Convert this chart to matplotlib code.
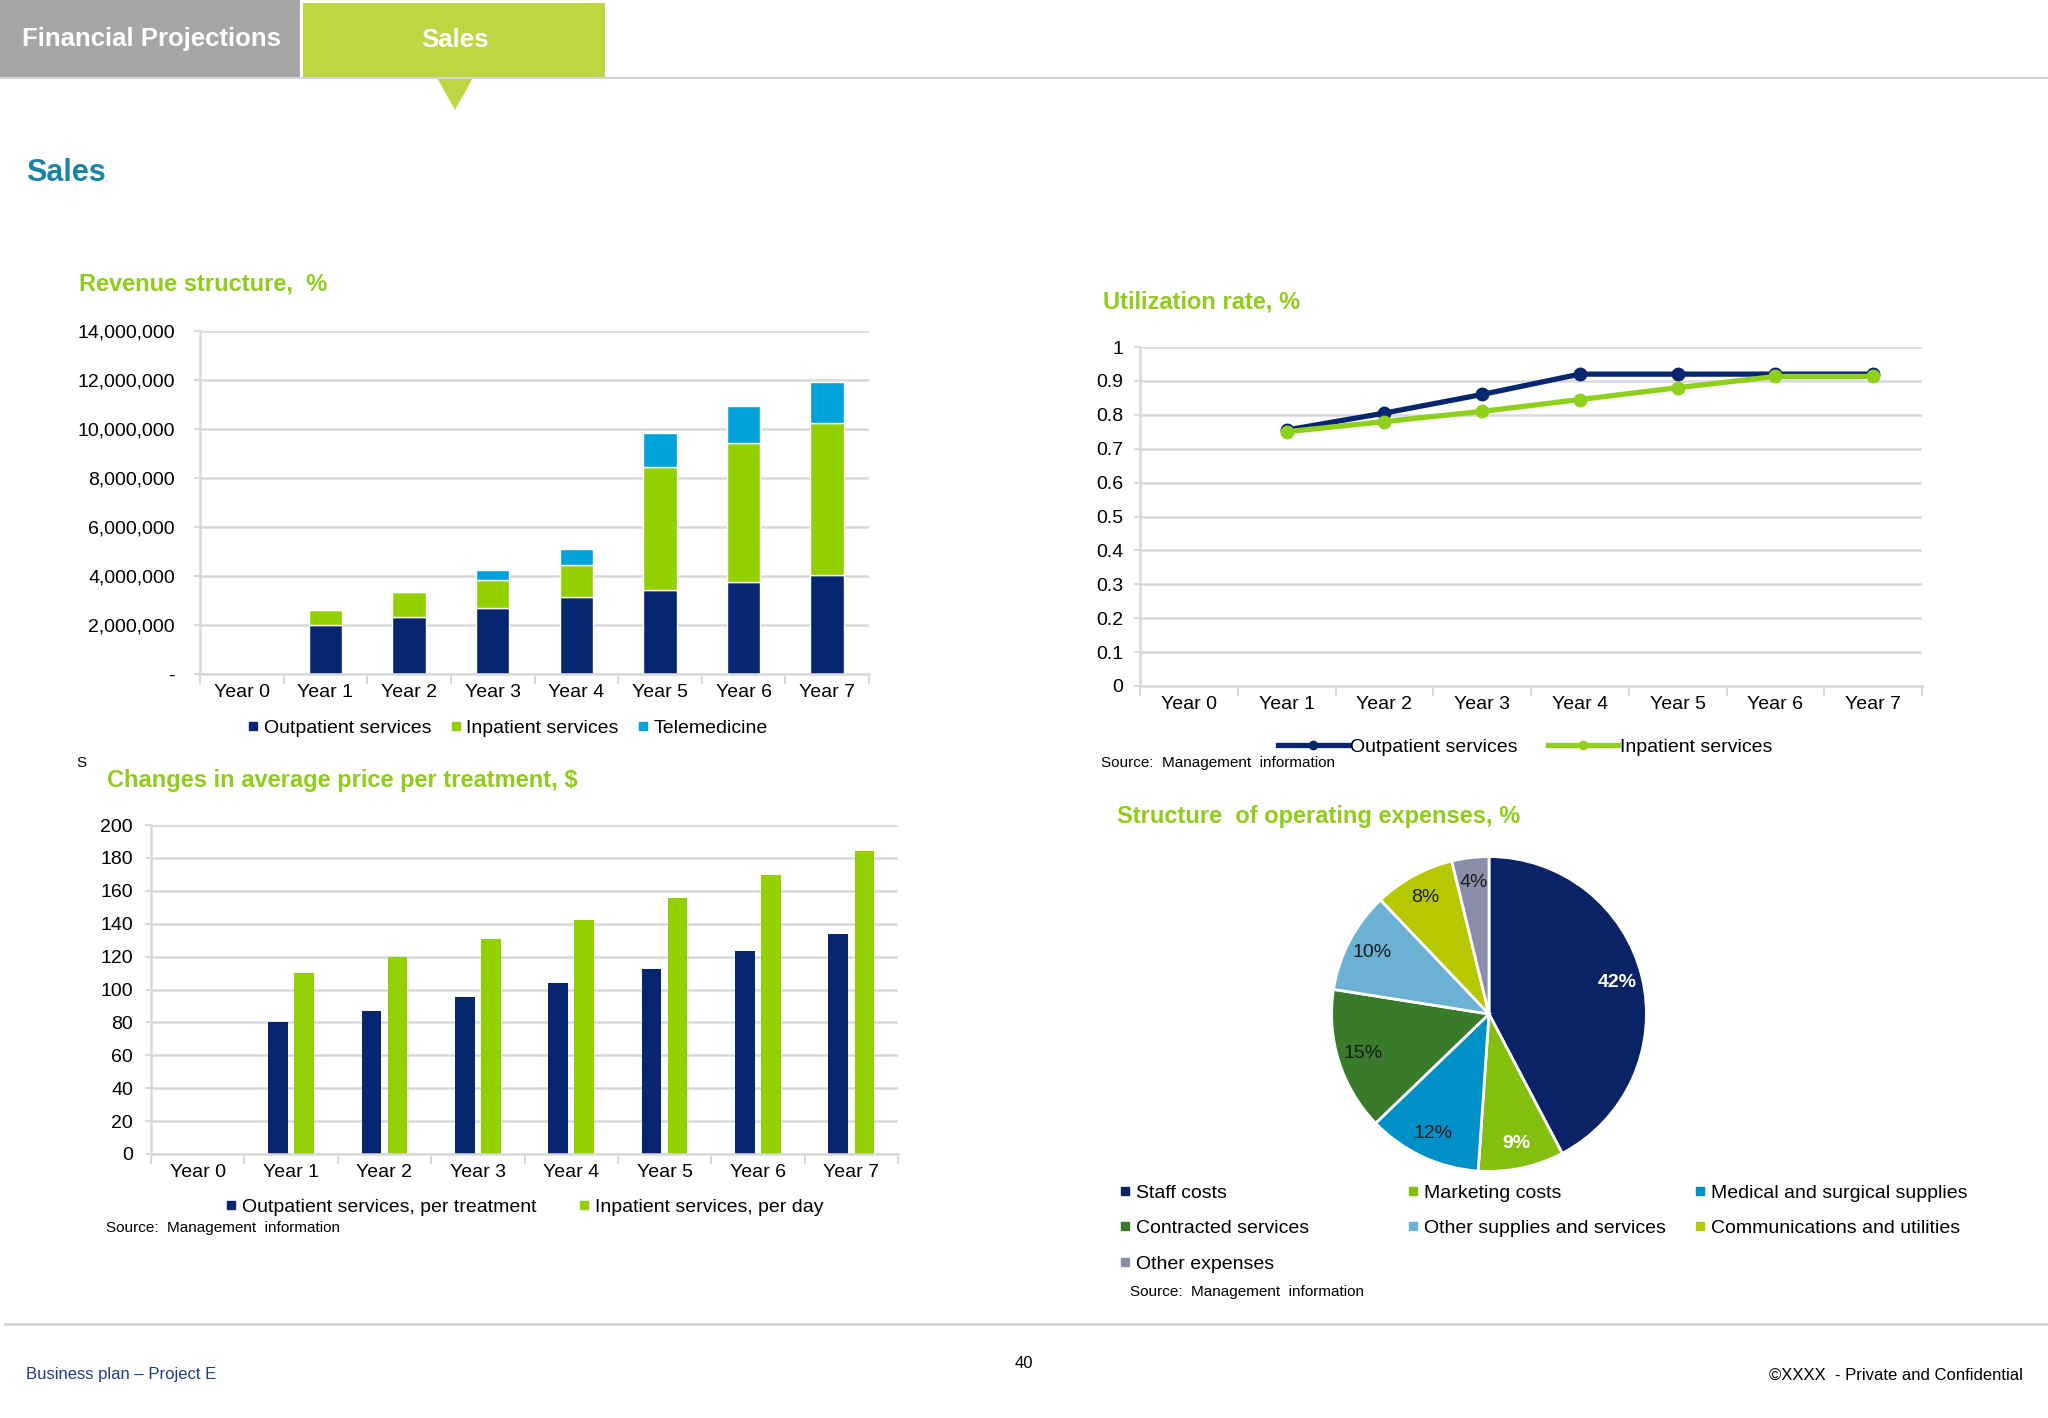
import numpy as np
import matplotlib
matplotlib.use("Agg")
import matplotlib.pyplot as plt
from matplotlib.patches import Rectangle, Polygon
from matplotlib.lines import Line2D
from matplotlib.ticker import FuncFormatter, FixedLocator

plt.rcParams['font.family'] = ['Liberation Sans', 'DejaVu Sans']

years = ["Year 0", "Year 1", "Year 2", "Year 3", "Year 4", "Year 5", "Year 6", "Year 7"]

# revenue structure
rev_outpatient = [0, 2.00e6, 2.31e6, 2.69e6, 3.14e6, 3.44e6, 3.75e6, 4.05e6]
rev_inpatient = [0, 0.60e6, 1.03e6, 1.16e6, 1.30e6, 5.00e6, 5.68e6, 6.19e6]
rev_telemed = [0, 0, 0, 0.40e6, 0.66e6, 1.38e6, 1.52e6, 1.69e6]

# utilization rate
util_outpatient = [np.nan, 0.755, 0.805, 0.86, 0.92, 0.92, 0.92, 0.92]
util_inpatient = [np.nan, 0.75, 0.78, 0.81, 0.845, 0.88, 0.913, 0.913]

# average price per treatment
price_outpatient = [0, 80.0, 86.7, 95.2, 103.9, 112.5, 123.2, 133.9]
price_inpatient = [0, 110.2, 119.9, 130.7, 142.4, 155.6, 169.4, 184.4]

# operating expenses
opex_labels = ["Staff costs", "Marketing costs", "Medical and surgical supplies",
               "Contracted services", "Other supplies and services",
               "Communications and utilities", "Other expenses"]
opex_values = [42.3, 8.8, 11.7, 14.7, 10.4, 8.3, 3.8]
opex_colors = ["#0a2366", "#84bf10", "#0090c8", "#3a7a2b", "#6ab1d3", "#b5c800", "#8a8ea8"]

NAVY = "#06266f"
GREEN = "#92d000"
BLUE = "#00a2dc"
TITLE_GREEN = "#8fcc1c"
GRID = "#d9d9d9"
W, H = 2048, 1418

fig = plt.figure(figsize=(W / 100, H / 100), dpi=100)


def box(left, top, right, bottom):
    return [left / W, 1 - bottom / H, (right - left) / W, (bottom - top) / H]


def fx(x):
    return x / W


def fy(y):
    return 1 - y / H


def style_axes(ax, ylim, step, fmt):
    ax.set_xlim(-0.5, len(years) - 0.5)
    ax.set_ylim(*ylim)
    ax.set_yticks(np.arange(ylim[0], ylim[1] + step / 2, step))
    ax.yaxis.set_major_formatter(FuncFormatter(fmt))
    ax.set_xticks(range(len(years)))
    ax.set_xticklabels(years)
    ax.xaxis.set_minor_locator(FixedLocator(np.arange(-0.5, len(years), 1)))
    ax.tick_params(axis="x", which="major", length=0, pad=7, labelsize=14)
    ax.tick_params(axis="x", which="minor", length=7, width=1.5, color=GRID)
    ax.tick_params(axis="y", length=4, width=1.5, color=GRID, labelsize=14)
    ax.grid(axis="y", color=GRID, linewidth=1.8)
    ax.set_axisbelow(True)
    for s in ["top", "right"]:
        ax.spines[s].set_visible(False)
    for s in ["left", "bottom"]:
        ax.spines[s].set_color(GRID)
        ax.spines[s].set_linewidth(1.8)


def sq(color):
    return Line2D([], [], marker="s", linestyle="", color=color, markersize=6)


# header
fig.patches.append(Rectangle((0, fy(77)), fx(300), 77 / H, transform=fig.transFigure,
                             facecolor="#a6a6a6", edgecolor="none"))
fig.patches.append(Rectangle((fx(303), fy(77)), fx(302), 74 / H, transform=fig.transFigure,
                             facecolor="#bfd643", edgecolor="none"))
fig.patches.append(Polygon([(fx(436), fy(76)), (fx(474), fy(76)), (fx(455), fy(110))],
                           closed=True, transform=fig.transFigure,
                           facecolor="#bfd643", edgecolor="none"))
fig.add_artist(Line2D([0, 1], [fy(78), fy(78)], transform=fig.transFigure,
                      color="#d4d4d4", linewidth=1.5))
fig.text(fx(152), fy(39), "Financial Projections", color="white", fontsize=18.5,
         fontweight="bold", ha="center", va="center")
fig.text(fx(455), fy(40), "Sales", color="white", fontsize=18.5,
         fontweight="bold", ha="center", va="center")
fig.text(fx(26), fy(173), "Sales", color="#1a84a8", fontsize=22,
         fontweight="bold", ha="left", va="center")

# revenue structure
ax1 = fig.add_axes(box(200, 331, 869, 674))
x = np.arange(len(years))
b1 = np.array(rev_outpatient)
b2 = b1 + np.array(rev_inpatient)
ax1.bar(x, rev_outpatient, width=0.4, color=NAVY, edgecolor="white", linewidth=1)
ax1.bar(x, rev_inpatient, width=0.4, bottom=b1, color=GREEN, edgecolor="white", linewidth=1)
ax1.bar(x, rev_telemed, width=0.4, bottom=b2, color=BLUE, edgecolor="white", linewidth=1)
style_axes(ax1, (0, 14e6), 2e6, lambda v, p: "-" if v == 0 else f"{v:,.0f}")
ax1.tick_params(axis="y", pad=14)
fig.text(fx(79), fy(284), "Revenue structure,  %", color=TITLE_GREEN, fontsize=17,
         fontweight="bold", ha="left", va="center")
fig.legend([sq(NAVY), sq(GREEN), sq(BLUE)],
           ["Outpatient services", "Inpatient services", "Telemedicine"],
           loc="center", bbox_to_anchor=(fx(508), fy(728)), ncol=3, frameon=False,
           fontsize=14, handlelength=0.5, handletextpad=0.3, columnspacing=1.0)
fig.text(fx(76), fy(763), "S", fontsize=11, ha="left", va="center")

# utilization rate
ax2 = fig.add_axes(box(1140, 347, 1922, 686))
ax2.plot(x, util_outpatient, color=NAVY, linewidth=3.8, marker="o", markersize=9)
ax2.plot(x, util_inpatient, color="#8fd11a", linewidth=3.8, marker="o", markersize=9)
style_axes(ax2, (0, 1), 0.1, lambda v, p: f"{round(v, 1):g}")
ax2.tick_params(axis="y", pad=8)
fig.text(fx(1103), fy(302), "Utilization rate, %", color=TITLE_GREEN, fontsize=17,
         fontweight="bold", ha="left", va="center")
fig.legend([Line2D([], [], color=NAVY, linewidth=3.8, marker="o", markersize=6),
            Line2D([], [], color="#8fd11a", linewidth=3.8, marker="o", markersize=6)],
           ["Outpatient services", "Inpatient services"],
           loc="center", bbox_to_anchor=(fx(1525), fy(747)), ncol=2, frameon=False,
           fontsize=14, handlelength=3.6, handletextpad=0.1, columnspacing=1.6)
fig.text(fx(1101), fy(763), "Source:  Management  information", fontsize=11,
         ha="left", va="center")

# price per treatment
ax3 = fig.add_axes(box(151, 825, 898, 1154))
ax3.bar(x - 0.14, price_outpatient, width=0.21, color=NAVY)
ax3.bar(x + 0.14, price_inpatient, width=0.21, color=GREEN)
style_axes(ax3, (0, 200), 20, lambda v, p: f"{v:.0f}")
ax3.tick_params(axis="y", pad=9)
fig.text(fx(107), fy(781), "Changes in average price per treatment, $", color=TITLE_GREEN,
         fontsize=17, fontweight="bold", ha="left", va="center")
fig.legend([sq(NAVY), sq(GREEN)],
           ["Outpatient services, per treatment", "Inpatient services, per day"],
           loc="center", bbox_to_anchor=(fx(525), fy(1207)), ncol=2, frameon=False,
           fontsize=14, handlelength=0.5, handletextpad=0.3, columnspacing=2.2)
fig.text(fx(106), fy(1228), "Source:  Management  information", fontsize=11,
         ha="left", va="center")

# operating expenses
ax4 = fig.add_axes(box(1330, 855, 1648, 1173))
wedges, _, autotexts = ax4.pie(opex_values, colors=opex_colors, startangle=90,
                               counterclock=False, radius=1, autopct="%.0f%%",
                               pctdistance=0.84,
                               wedgeprops=dict(edgecolor="white", linewidth=2),
                               textprops=dict(fontsize=14, color="#1a1a1a"))
for i in (0, 1):
    autotexts[i].set_color("white")
    autotexts[i].set_fontweight("bold")
ax4.set_xlim(-1.01, 1.01)
ax4.set_ylim(-1.01, 1.01)
ax4.set_aspect("equal")
fig.text(fx(1117), fy(817), "Structure  of operating expenses, %", color=TITLE_GREEN,
         fontsize=17, fontweight="bold", ha="left", va="center")

columns = [[0, 3, 6], [1, 4], [2, 5]]
col_x = [1120, 1408, 1695]
for cx, idx in zip(col_x, columns):
    fig.legend([sq(opex_colors[i]) for i in idx], [opex_labels[i] for i in idx],
               loc="upper left", bbox_to_anchor=(fx(cx), fy(1184)), frameon=False,
               fontsize=14, handlelength=0.5, handletextpad=0.3, labelspacing=0.92,
               borderpad=0, borderaxespad=0)
fig.text(fx(1130), fy(1292), "Source:  Management  information", fontsize=11,
         ha="left", va="center")

# footer
fig.add_artist(Line2D([fx(5), 1], [fy(1324), fy(1324)], transform=fig.transFigure,
                      color="#d4d4d4", linewidth=2))
fig.text(fx(26), fy(1375), "Business plan \u2013 Project E", color="#1f3c8c", fontsize=12,
         ha="left", va="center")
fig.text(fx(1024), fy(1363), "40", fontsize=12, ha="center", va="center")
fig.text(fx(2023), fy(1375), "\u00a9XXXX  - Private and Confidential", fontsize=12,
         ha="right", va="center")

fig.savefig("out.png", dpi=100, facecolor="white")
